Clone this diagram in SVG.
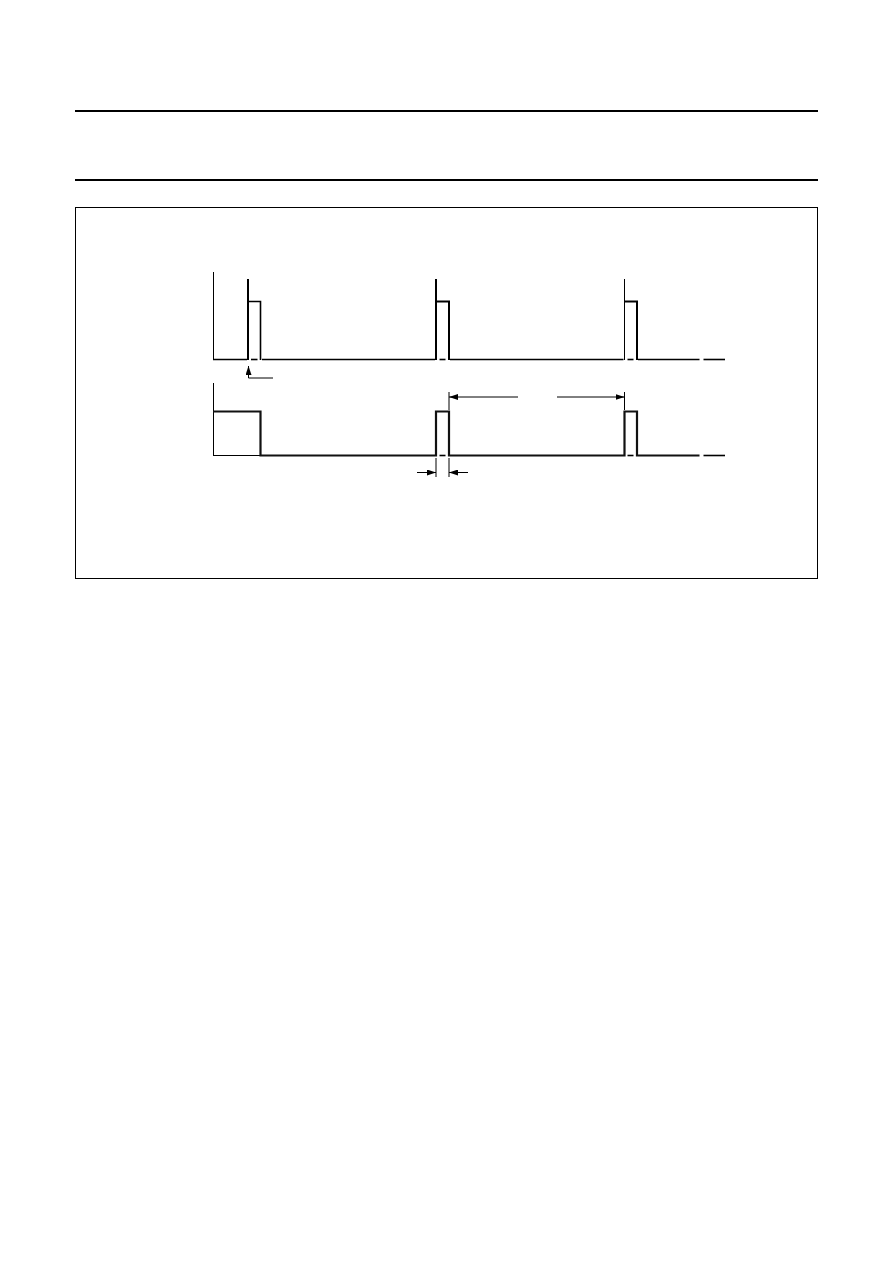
<svg xmlns="http://www.w3.org/2000/svg" width="893" height="1263" viewBox="0 0 893 1263">
<style>
.thin{fill:none;stroke:#000;stroke-width:1}
.med{fill:none;stroke:#000;stroke-width:1.6}
.thick{fill:none;stroke:#000;stroke-width:2}
.wave2{fill:none;stroke:#111;stroke-width:2.2}
.dim{fill:none;stroke:#000;stroke-width:1}
</style>
<defs>
<marker id="ah" markerUnits="userSpaceOnUse" markerWidth="9" markerHeight="6" refX="9" refY="3" orient="auto">
<path d="M0,0 L9,3 L0,6 z" fill="#000"/>
</marker>
</defs>
<rect width="893" height="1263" fill="#fff"/>
<g id="page-rules">
<line x1="75" y1="111" x2="818" y2="111" class="thick"/>
<line x1="75" y1="180" x2="818" y2="180" class="thick"/>
<rect x="75.5" y="207.5" width="742" height="371" class="thin"/>
</g>
<g id="signal-top">
<line x1="213.5" y1="272" x2="213.5" y2="359.5" class="thin"/>
<line x1="213" y1="359.5" x2="247" y2="359.5" class="med"/>
<line x1="248" y1="279" x2="248" y2="360" class="thick"/>
<polyline points="248,301.5 260.5,301.5 260.5,360" class="med"/>
<line x1="251" y1="359.5" x2="257.5" y2="359.5" class="med"/>
<line x1="262" y1="359.5" x2="435" y2="359.5" class="med"/>
<line x1="436" y1="279" x2="436" y2="360" class="thick"/>
<polyline points="436,301.5 449,301.5 449,360" class="thick"/>
<line x1="439.5" y1="359.5" x2="445.5" y2="359.5" class="med"/>
<line x1="450" y1="359.5" x2="623.5" y2="359.5" class="med"/>
<line x1="624.5" y1="279" x2="624.5" y2="360" class="thin"/>
<polyline points="624.5,301.5 637,301.5 637,360" class="thick"/>
<line x1="627.5" y1="359.5" x2="633.5" y2="359.5" class="med"/>
<line x1="638" y1="359.5" x2="699.5" y2="359.5" class="med"/>
<line x1="703.5" y1="359.5" x2="725" y2="359.5" class="med"/>
</g>
<g id="signal-bottom">
<line x1="213.5" y1="383" x2="213.5" y2="456" class="thin"/>
<line x1="213" y1="455.5" x2="260" y2="455.5" class="thin"/>
<polyline points="213,411.5 260.5,411.5 260.5,455.5 436,455.5 436,411.5 449,411.5 449,455.5 624.5,455.5 624.5,411.5 637,411.5 637,455.5 699.5,455.5" class="wave2"/>
<line x1="439.5" y1="455.5" x2="445.5" y2="455.5" class="med"/>
<line x1="627.5" y1="455.5" x2="633.5" y2="455.5" class="med"/>
<line x1="703.5" y1="455.5" x2="725" y2="455.5" class="med"/>
</g>
<g id="connectors">
<polyline points="273,378 248.5,378 248.5,366" class="dim" marker-end="url(#ah)"/>
<line x1="449" y1="392" x2="449" y2="410" class="dim"/>
<line x1="624.5" y1="392" x2="624.5" y2="410" class="dim"/>
<line x1="518" y1="397" x2="449" y2="397" class="dim" marker-end="url(#ah)"/>
<line x1="557" y1="397" x2="624.5" y2="397" class="dim" marker-end="url(#ah)"/>
<line x1="436" y1="458" x2="436" y2="477" class="dim"/>
<line x1="449" y1="458" x2="449" y2="477" class="dim"/>
<line x1="417" y1="472.5" x2="436" y2="472.5" class="dim" marker-end="url(#ah)"/>
<line x1="468" y1="472.5" x2="449" y2="472.5" class="dim" marker-end="url(#ah)"/>
</g>
</svg>
